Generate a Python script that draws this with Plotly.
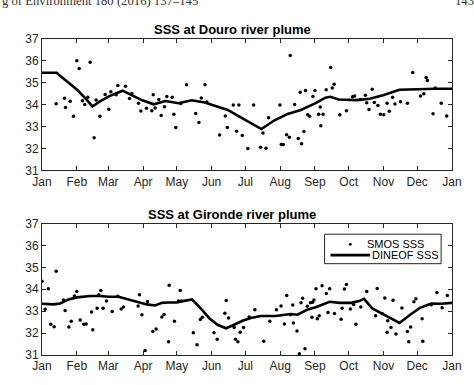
import plotly.graph_objects as go
from plotly.subplots import make_subplots

# ---------------- data ----------------
month_ticks = [0, 31, 59, 90, 120, 151, 181, 212, 243, 273, 304, 334, 365]
month_labels = ["Jan", "Feb", "Mar", "Apr", "May", "Jun", "Jul", "Aug", "Sep", "Oct", "Nov", "Dec", "Jan"]
y_ticks = [31, 32, 33, 34, 35, 36, 37]

douro_smos_day = [12.6, 20.0, 20.9, 25.1, 28.0, 31.0, 33.1, 36.0, 38.1, 40.8, 42.9, 46.4, 48.2, 51.5, 56.2,
                  59.5, 61.3, 66.0, 67.5, 74.3, 77.9, 80.0, 85.9, 88.0, 93.0, 97.8, 99.0, 100.7, 104.0, 106.1,
                  109.0, 111.1, 115.9, 117.4, 119.1, 123.6, 128.7, 136.8, 139.7, 141.8, 145.1, 146.8, 158.1,
                  163.2, 165.0, 170.3, 173.3, 175.3, 178.3, 183.3, 188.4, 194.6, 196.7, 199.4, 201.7, 211.8,
                  213.0, 214.8, 217.8, 220.2, 221.0, 224.9, 228.1, 229.9, 231.1, 233.2, 234.6, 236.5, 238.2,
                  241.2, 243.0, 246.3, 247.7, 248.2, 250.2, 253.0, 257.0, 258.4, 260.1, 265.1, 271.0, 276.5,
                  278.3, 283.2, 287.9, 289.1, 291.1, 294.0, 295.8, 299.0, 301.3, 304.3, 307.2, 309.2, 312.1,
                  314.2, 319.1, 325.3, 330.0, 337.0, 339.9, 342.0, 343.1, 348.1, 350.1, 355.4, 360.3]
douro_smos_sss = [34.04, 34.29, 33.87, 34.16, 33.47, 36.01, 35.65, 34.18, 34.01, 34.34, 35.94, 32.49, 34.21,
                  33.47, 34.47, 33.79, 34.59, 34.46, 34.88, 34.84, 34.28, 34.51, 34.07, 33.71, 33.84, 33.72,
                  34.46, 33.85, 34.24, 33.51, 33.91, 34.38, 34.34, 33.56, 32.96, 34.05, 34.91, 33.60, 33.19,
                  34.31, 34.91, 34.12, 32.62, 33.49, 32.96, 33.99, 32.79, 33.99, 32.59, 32.00, 33.99, 32.06,
                  32.71, 32.01, 33.40, 33.99, 32.18, 32.18, 32.63, 32.51, 36.25, 34.01, 32.46, 34.57, 32.22,
                  32.78, 34.65, 33.54, 33.47, 34.37, 34.65, 33.57, 33.90, 33.04, 33.57, 34.68, 35.70, 34.76,
                  34.93, 33.54, 33.72, 34.36, 34.40, 34.24, 34.43, 34.09, 33.78, 34.71, 34.10, 33.96, 33.56,
                  33.54, 34.07, 33.70, 34.34, 34.03, 34.13, 34.07, 35.47, 34.40, 34.50, 35.24, 35.10, 33.59,
                  34.76, 34.07, 33.48]

douro_dineof_day = [0, 13.2, 15.5, 22, 31.3, 39.5, 44.8, 51.2, 60, 71.7, 80.5, 89.3, 99.5, 109.8, 121.5,
                    133.2, 144.9, 153.7, 165.4, 174.2, 195.3, 207.0, 218.7, 230.4, 243.6, 252.3, 256.7, 264.0,
                    280.1, 291.8, 303.6, 318.2, 332.8, 350.4, 365]
douro_dineof_sss = [35.46, 35.46, 35.34, 35.05, 34.68, 34.24, 33.92, 34.14, 34.39, 34.64, 34.43, 34.20, 34.02,
                    34.17, 34.07, 34.20, 34.10, 33.95, 33.76, 33.50, 32.89, 33.29, 33.58, 33.76, 34.07, 34.32,
                    34.36, 34.24, 34.21, 34.27, 34.43, 34.68, 34.71, 34.73, 34.73]

gironde_smos_day = [0.0, 2.8, 5.7, 7.8, 10.8, 12.6, 19.1, 20.6, 23.9, 26.0, 28.9, 31.0, 34.0, 37.2, 39.3,
                    44.1, 45.2, 49.1, 50.6, 52.4, 54.4, 57.4, 62.5, 67.5, 70.5, 72.5, 85.6, 86.8, 88.9, 91.8,
                    93.9, 98.7, 101.6, 106.7, 108.7, 112.6, 113.2, 117.9, 121.5, 123.0, 124.0, 134.7, 138.0,
                    141.0, 142.7, 153.1, 156.0, 162.8, 164.0, 166.1, 171.1, 172.3, 174.4, 176.4, 179.4, 184.4,
                    189.5, 197.4, 202.8, 208.7, 212.8, 215.8, 217.9, 221.2, 223.2, 223.8, 227.0, 229.1, 230.6,
                    232.0, 234.1, 236.2, 239.1, 240.3, 240.9, 242.1, 243.9, 245.1, 246.8, 249.3, 253.1, 254.6,
                    256.1, 260.4, 266.3, 267.2, 269.2, 271.0, 274.5, 277.4, 279.4, 283.8, 289.1, 297.0, 298.4,
                    302.8, 305.2, 307.2, 307.8, 310.7, 312.5, 315.1, 320.4, 325.3, 326.5, 328.2, 331.1, 332.9,
                    338.4, 339.0, 346.6, 351.6, 356.2, 360.9]
gironde_smos_sss = [34.37, 33.09, 34.03, 32.40, 32.29, 34.82, 33.51, 33.03, 32.28, 32.54, 33.69, 33.90, 32.60,
                    32.40, 32.41, 32.96, 32.15, 33.13, 33.75, 33.94, 33.13, 33.47, 32.99, 33.68, 33.10, 33.19,
                    33.24, 33.75, 32.84, 31.21, 33.44, 32.07, 32.19, 32.74, 32.85, 31.60, 34.18, 32.54, 33.46,
                    33.95, 33.47, 32.01, 31.47, 32.62, 32.72, 32.01, 31.72, 32.91, 33.49, 32.69, 32.25, 31.72,
                    31.60, 32.04, 32.25, 32.74, 33.06, 31.63, 32.54, 33.07, 33.24, 32.41, 33.72, 32.84, 33.28,
                    32.46, 32.10, 31.06, 33.38, 33.59, 31.28, 33.22, 33.38, 32.72, 33.41, 33.51, 34.03, 32.65,
                    32.79, 34.16, 33.81, 32.94, 34.03, 32.90, 32.63, 33.13, 34.01, 34.22, 33.10, 33.31, 32.40,
                    33.19, 33.90, 32.79, 34.04, 32.90, 33.60, 32.04, 32.56, 32.25, 33.50, 31.96, 33.15, 32.07,
                    31.60, 32.28, 33.43, 33.57, 32.66, 31.63, 33.29, 33.85, 33.16, 33.72]

gironde_dineof_day = [0, 10.2, 16.2, 23.6, 31, 42.9, 51.8, 59.2, 68.1, 75.5, 84.4, 93.3, 100.7, 106.7, 112.6,
                      120, 125.3, 133.5, 141.5, 148.9, 156.3, 163.7, 171.1, 178.5, 185.9, 194.8, 208.1, 217,
                      221.4, 227.4, 236.2, 243.6, 256.1, 264.8, 275, 282.3, 286.7, 294, 307.2, 318.3, 327.7,
                      336.4, 346.6, 355.4, 365]
gironde_dineof_sss = [33.34, 33.31, 33.35, 33.54, 33.63, 33.69, 33.69, 33.66, 33.66, 33.56, 33.44, 33.31, 33.26,
                      33.38, 33.40, 33.40, 33.46, 33.54, 33.12, 32.68, 32.38, 32.22, 32.38, 32.56, 32.69, 32.78,
                      32.78, 32.84, 32.87, 32.84, 33.07, 33.18, 33.43, 33.38, 33.38, 33.46, 33.56, 33.13, 32.75,
                      32.46, 32.84, 33.15, 33.35, 33.34, 33.38]

legend_names = ["SMOS SSS", "DINEOF SSS"]

# ---------------- figure ----------------
W, H = 474, 385
ML, MR, MT, MB = 42, 17, 39, 19
plot_h = H - MT - MB
ink = "#262626"
font_family = "Liberation Sans, Arial, sans-serif"

fig = make_subplots(rows=2, cols=1, vertical_spacing=0.0)

panels = [
    (1, douro_smos_day, douro_smos_sss, douro_dineof_day, douro_dineof_sss),
    (2, gironde_smos_day, gironde_smos_sss, gironde_dineof_day, gironde_dineof_sss),
]
for row, sd, ss, dd, ds in panels:
    fig.add_trace(go.Scatter(x=sd, y=ss, mode="markers", name=legend_names[0], showlegend=False,
                             marker=dict(color="black", size=3.5)), row=row, col=1)
    fig.add_trace(go.Scatter(x=dd, y=ds, mode="lines", name=legend_names[1], showlegend=False,
                             line=dict(color="black", width=2.6)), row=row, col=1)

top_dom = [(H - MB - 175) / plot_h, 1.0]
bot_dom = [0.0, (H - MB - 230) / plot_h]

axis_common = dict(showline=True, linecolor=ink, linewidth=1, mirror="allticks", ticks="inside",
                   ticklen=4, tickcolor=ink, tickwidth=1, showgrid=False, zeroline=False,
                   tickfont=dict(family=font_family, size=12, color=ink))

for row, dom in [(1, top_dom), (2, bot_dom)]:
    fig.update_xaxes(range=[0, 365], tickmode="array", tickvals=month_ticks, ticktext=month_labels,
                     row=row, col=1, **axis_common)
    fig.update_yaxes(range=[31, 37], tickmode="array", tickvals=y_ticks, domain=dom,
                     row=row, col=1, **axis_common)


def px_to_paper_x(px):
    return (px - ML) / (W - ML - MR)


def py_to_paper_y(py):
    return (H - MB - py) / plot_h


annotations = [
    dict(text="<b>SSS at Douro river plume</b>", x=px_to_paper_x(235), y=py_to_paper_y(29),
         xref="paper", yref="paper", xanchor="center", yanchor="middle", showarrow=False,
         font=dict(family=font_family, size=13, color="black")),
    dict(text="<b>SSS at Gironde river plume</b>", x=px_to_paper_x(234), y=py_to_paper_y(220.5),
         xref="paper", yref="paper", xanchor="center", yanchor="middle", showarrow=False,
         font=dict(family=font_family, size=13, color="black")),
    dict(text="g of Environment 180 (2016) 137–145", x=px_to_paper_x(-1), y=py_to_paper_y(9),
         xref="paper", yref="paper", xanchor="left", yanchor="bottom", showarrow=False,
         font=dict(family="Liberation Serif, serif", size=12.7, color="#333333")),
    dict(text="143", x=px_to_paper_x(458), y=py_to_paper_y(9),
         xref="paper", yref="paper", xanchor="left", yanchor="bottom", showarrow=False,
         font=dict(family="Liberation Serif, serif", size=12.7, color="#333333")),
    # custom legend text
    dict(text=legend_names[0], x=px_to_paper_x(369), y=py_to_paper_y(250.7),
         xref="paper", yref="paper", xanchor="left", yanchor="middle", showarrow=False,
         font=dict(family=font_family, size=11, color="black")),
    dict(text=legend_names[1], x=px_to_paper_x(374.5), y=py_to_paper_y(262.7),
         xref="paper", yref="paper", xanchor="left", yanchor="middle", showarrow=False,
         font=dict(family=font_family, size=11, color="black")),
]

shapes = [
    # legend box
    dict(type="rect", xref="paper", yref="paper",
         x0=px_to_paper_x(328), x1=px_to_paper_x(446), y0=py_to_paper_y(271.5), y1=py_to_paper_y(241),
         line=dict(color=ink, width=1), fillcolor="white", layer="above"),
    # legend line sample
    dict(type="line", xref="paper", yref="paper",
         x0=px_to_paper_x(334), x1=px_to_paper_x(374), y0=py_to_paper_y(262.7), y1=py_to_paper_y(262.7),
         line=dict(color="black", width=2.6), layer="above"),
    # legend dot sample
    dict(type="circle", xref="paper", yref="paper",
         x0=px_to_paper_x(352.5), x1=px_to_paper_x(355.5), y0=py_to_paper_y(253), y1=py_to_paper_y(250),
         line=dict(color="black", width=0), fillcolor="black", layer="above"),
]

fig.update_layout(
    width=W, height=H,
    margin=dict(l=ML, r=MR, t=MT, b=MB),
    paper_bgcolor="white", plot_bgcolor="white",
    annotations=annotations,
    shapes=shapes,
    showlegend=False,
)

fig.write_html("out.html", config={"displayModeBar": False},
               post_script="document.body.style.margin='0';document.body.style.padding='0';")
